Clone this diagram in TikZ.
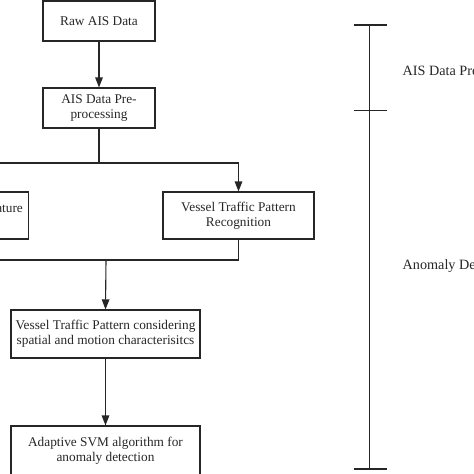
\documentclass[tikz,border=0pt]{standalone}
\usepackage{fontspec}
\setmainfont{Liberation Serif}
\usetikzlibrary{arrows.meta}
\definecolor{ink}{HTML}{262626}
\tikzset{
  flowbox/.style={draw=ink, line width=1.1pt, inner sep=0pt, align=center,
    font=\fontsize{13.3}{15}\selectfont, text=ink},
  flowline/.style={draw=ink, line width=1.1pt},
  flowarrow/.style={flowline, -{Triangle[length=10pt,width=7.5pt]}},
  sidetext/.style={font=\fontsize{14.2}{16}\selectfont, text=ink, anchor=base west, inner sep=0pt}
}
\begin{document}
\begin{tikzpicture}[x=1pt,y=-1pt]
\useasboundingbox (0,0) rectangle (474,474);
\node[flowbox, minimum width=112pt, minimum height=40pt] (raw) at (99,21) {Raw AIS Data};
\node[flowbox, minimum width=112pt, minimum height=40pt] (pre) at (99,108) {AIS Data Pre-\\processing};
\node[flowbox, minimum width=131pt, minimum height=47pt] (feat) at (-37,215.5) {Vessel Motion Feature\\Extraction};
\node[flowbox, minimum width=151pt, minimum height=47pt] (vtpr) at (238.5,215.5) {Vessel Traffic Pattern\\Recognition};
\node[flowbox, minimum width=189pt, minimum height=48pt] (vtpc) at (105.5,334) {Vessel Traffic Pattern considering\\spatial and motion characterisitcs};
\node[flowbox, minimum width=189pt, minimum height=50pt] (svm) at (105.5,451) {Adaptive SVM algorithm for\\anomaly detection};

\coordinate (split) at (99,163);
\coordinate (merge) at (106,260);

\draw[flowarrow] (raw.south) -- (pre.north);
\draw[flowline] (pre.south) -- (split);
\draw[flowarrow] (split) -| (vtpr.north);
\draw[flowarrow] (split) -| (feat.north);
\draw[flowline] (vtpr.south) |- (merge);
\draw[flowline] (feat.south) |- (merge);
\draw[flowarrow] (merge) -- (vtpc.north);
\draw[flowarrow] (vtpc.south) -- (svm.north);

% stage scale on the right
\coordinate (s1) at (369.5,25);
\coordinate (s2) at (369.5,110.5);
\coordinate (s3) at (369.5,469);
\draw[flowline] (s1) -- (s3);
\draw[flowline] ([xshift=-16pt]s1) -- ([xshift=17pt]s1);
\draw[flowline] ([xshift=-16pt]s2) -- ([xshift=17pt]s2);
\draw[flowline] ([xshift=-16pt]s3) -- ([xshift=17pt]s3);
\node[sidetext] (stage1) at (402.5,75.7) {AIS Data Pre-processing};
\node[sidetext] (stage2) at (402.5,269) {Anomaly Detection};
\end{tikzpicture}
\end{document}
